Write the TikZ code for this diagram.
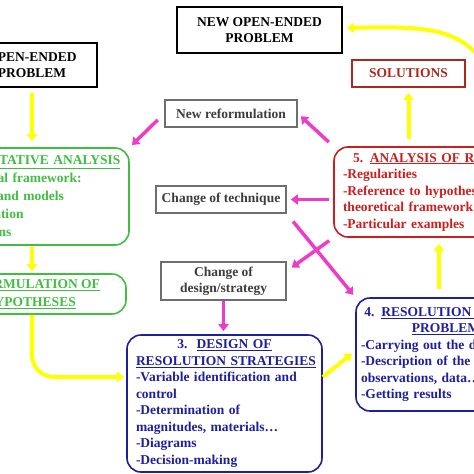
\documentclass[tikz,border=0pt]{standalone}
\usepackage{fontspec}
\setmainfont{Liberation Serif}
\usetikzlibrary{arrows.meta,positioning}

\definecolor{flowyellow}{RGB}{255,255,0}
\definecolor{flowpink}{RGB}{238,60,200}
\definecolor{qualgreen}{RGB}{64,190,64}
\definecolor{resred}{RGB}{205,30,30}
\definecolor{solred}{RGB}{170,40,30}
\definecolor{desblue}{RGB}{30,30,160}
\definecolor{boxgrey}{RGB}{110,110,110}
\definecolor{textgrey}{RGB}{60,60,60}

\begin{document}
\begin{tikzpicture}[x=1pt, y=-1pt,
	font=\bfseries\fontsize{13.5}{16.5}\selectfont,
	plainbox/.style={draw=black, line width=1.6pt, align=center, inner sep=0pt},
	greybox/.style={draw=boxgrey, text=textgrey, line width=1.6pt, align=center, inner sep=0pt},
	roundbox/.style={rounded corners=14pt, line width=1.6pt, inner ysep=0pt, align=left},
	yarrow/.style={draw=flowyellow, line width=4pt, -{Triangle[width=10pt,length=7pt]}},
	marrow/.style={draw=flowpink, line width=3.5pt, -{Triangle[width=10pt,length=7pt]}}]

\useasboundingbox (0,0) rectangle (474,474);
\clip (0,0) rectangle (474,474);

% problem boxes
\node[plainbox, minimum width=130pt, minimum height=44pt] (oldprob) at (32,65) {OPEN-ENDED\\PROBLEM};
\node[plainbox, minimum width=165pt, minimum height=46pt] (newprob) at (259.5,30) {NEW OPEN-ENDED\\PROBLEM};
\node[draw=solred, text=solred, line width=1.6pt, inner sep=0pt,
	minimum width=113pt, minimum height=27pt] (sol) at (408.5,73.5) {SOLUTIONS};

% grey boxes
\node[greybox, minimum width=132pt, minimum height=27pt] (newref) at (231,113.5) {New reformulation};
\node[greybox, minimum width=130pt, minimum height=27pt] (tech) at (221,199.5) {Change of technique};
\node[greybox, minimum width=125pt, minimum height=38pt] (chdes) at (223.5,281) {Change of\\design/strategy};

% stages
\node[roundbox, draw=qualgreen, text=qualgreen, inner xsep=8pt, text width=183pt,
	minimum width=199pt, minimum height=97pt,
	font=\bfseries\fontsize{13.5}{18}\selectfont] (qual) at (29.5,196.5)
	{1. \underline{QUALITATIVE ANALYSIS}\\
	-Theoretical framework:\\
	-Theories and models\\
	-Simplification\\
	-Restrictions};
\node[roundbox, draw=qualgreen, text=qualgreen, align=center, inner xsep=8pt,
	minimum width=192pt, minimum height=40pt,
	font=\bfseries\fontsize{13.5}{18}\selectfont] (hyp) at (30,294)
	{2. \underline{FORMULATION OF}\\\underline{HYPOTHESES}};
\node[roundbox, draw=desblue, text=desblue, inner xsep=9pt, text width=177pt,
	minimum width=195pt, minimum height=137pt] (design) at (224.5,403.5)
	{{\centering 3.~~\underline{DESIGN OF}\\\underline{RESOLUTION STRATEGIES}\par}
	-Variable identification and\\
	control\\
	-Determination of\\
	magnitudes, materials…\\
	-Diagrams\\
	-Decision-making};
\node[roundbox, draw=desblue, text=desblue, inner xsep=5pt, text width=170pt,
	minimum width=180pt, minimum height=113pt] (resol) at (446,354.5)
	{{\centering 4. \underline{RESOLUTION OF THE}\\\underline{PROBLEM}\par}
	-Carrying out the design\\
	-Description of the process,\\
	observations, data…\\
	-Getting results};
\node[roundbox, draw=resred, text=resred, inner xsep=9pt, text width=192pt,
	minimum width=210pt, minimum height=90pt] (analysis) at (439,192)
	{{\centering 5. \underline{ANALYSIS OF RESULTS}\par}
	-Regularities\\
	-Reference to hypotheses and\\
	theoretical framework\\
	-Particular examples};

% yellow flow
\draw[yarrow, shorten <=5pt, shorten >=6pt] (oldprob.south) -- (oldprob.south |- qual.north);
\draw[yarrow, shorten <=1pt, shorten >=2pt] (qual.south -| oldprob.south) -- (hyp.north -| oldprob.south);
\draw[yarrow, rounded corners=22pt, shorten >=2pt] (hyp.south -| oldprob.south) |- ([yshift=26.5pt]design.west);
\draw[yarrow, shorten >=4pt] ([yshift=26.5pt]design.east) -- ([yshift=3.5pt]resol.west);
\draw[yarrow, shorten <=8pt, shorten >=6pt] (resol.north -| analysis.south) -- (analysis.south);
\draw[yarrow, shorten <=7pt, shorten >=5pt] (analysis.north -| sol.south) -- (sol.south);
\coordinate (loopin) at (505,110);
\draw[yarrow, shorten >=4pt] (loopin) .. controls (480,26) and (440,26) .. ([yshift=2pt]newprob.east);

% pink feedback
\draw[marrow, shorten <=6pt, shorten >=4pt] (analysis.north west) -- (newref.east);
\draw[marrow, shorten <=9pt, shorten >=3pt] (newref.west) -- (qual.north east);
\draw[marrow, shorten <=4pt, shorten >=4pt] (analysis.west |- tech.east) -- (tech.east);
\draw[marrow, shorten <=5pt, shorten >=6pt] (analysis.south west) -- ([yshift=10pt]chdes.east);
\draw[marrow, shorten <=10pt, shorten >=3pt] (tech.south east) -- (resol.north west);
\draw[marrow, shorten >=3pt] (chdes.south) -- (chdes.south |- design.north);
\end{tikzpicture}
\end{document}
